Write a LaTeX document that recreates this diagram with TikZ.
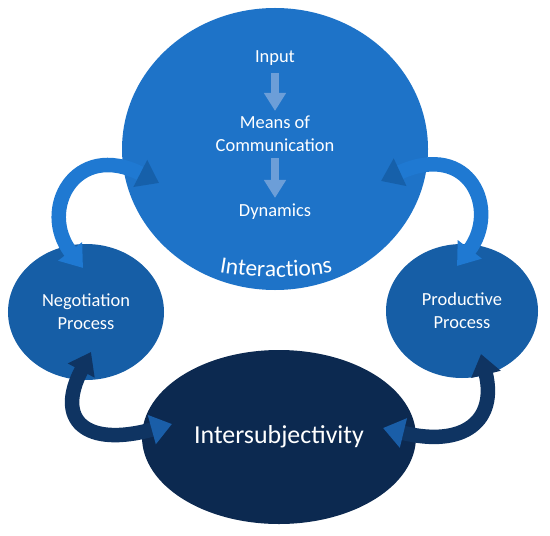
\documentclass[tikz,border=0pt]{standalone}
\usepackage{fontspec}
\setmainfont{Carlito}
\usetikzlibrary{shapes.geometric,arrows.meta,decorations.text}
\definecolor{topblue}{RGB}{30,115,200}
\definecolor{sideblue}{RGB}{22,94,166}
\definecolor{darknavy}{RGB}{12,41,80}
\definecolor{flowblue}{RGB}{108,158,216}
\definecolor{brightrib}{RGB}{31,121,210}
\definecolor{midrib}{RGB}{22,96,170}
\definecolor{navyrib}{RGB}{15,52,98}
\definecolor{lowhead}{RGB}{26,94,168}
\begin{document}
\begin{tikzpicture}[x=1bp,y=1bp,
  blob/.style={ellipse,inner sep=0pt,draw=none},
  txt/.style={text=white,inner sep=0pt,align=center,font=\fontsize{18.5}{23}\selectfont},
  flow/.style={draw=flowblue,line width=8bp,-{Triangle[width=21bp,length=18bp]}},
  ribbon/.style={line width=14.5bp}
]
\useasboundingbox (0,0) rectangle (550,-536);
% circles
\node[blob,fill=topblue,minimum width=306bp,minimum height=282bp] (inter) at (275,-149) {};
\node[blob,fill=sideblue,minimum width=156bp,minimum height=136bp,txt] (neg) at (86,-312) {Negotiation\\Process};
\node[blob,fill=sideblue,minimum width=152bp,minimum height=134bp,txt] (prod) at (462,-311) {Productive\\Process};
\node[blob,fill=darknavy,minimum width=274bp,minimum height=174bp,text=white,font=\fontsize{26}{30}\selectfont] (inters) at (279,-437) {Intersubjectivity};
% inner texts
\node[txt] (input) at (275,-58) {Input};
\node[txt] (means) at (275,-134) {Means of\\Communication};
\node[txt] (dyn) at (275,-212) {Dynamics};
\draw[flow,shorten <=7bp,shorten >=5bp] (input.south) -- (means.north);
\draw[flow,shorten <=6bp,shorten >=6bp] (means.south) -- (dyn.north);
% curved label
\path[decorate,decoration={text along path,text align=center,
  text={|\fontsize{23.5}{24}\selectfont\color{white}|Interactions}}]
  (276,53) ++(255:330) arc[start angle=255,end angle=285,radius=330];
% ribbon arrows
\coordinate (ulA) at (83,-268);
\coordinate (ulB) at (159,-183);
\coordinate (urA) at (457,-266);
\coordinate (urB) at (381,-181);
\coordinate (llA) at (91,-352);
\coordinate (llB) at (172,-424);
\coordinate (lrA) at (481,-354);
\coordinate (lrB) at (383,-428);
\draw[ribbon,draw=brightrib,{Triangle[width=29bp,length=21bp,color=brightrib]}-{Triangle[width=29bp,length=21bp,color=midrib]}]
  (ulA) .. controls (38,-210) and (75,-140) .. (ulB);
\draw[ribbon,draw=brightrib,{Triangle[width=29bp,length=21bp,color=brightrib]}-{Triangle[width=29bp,length=21bp,color=midrib]}]
  (urA) .. controls (500,-210) and (470,-140) .. (urB);
\draw[ribbon,draw=navyrib,{Triangle[width=29bp,length=21bp,color=navyrib]}-{Triangle[width=29bp,length=21bp,color=lowhead]}]
  (llA) .. controls (55,-420) and (85,-448) .. (llB);
\draw[ribbon,draw=navyrib,{Triangle[width=29bp,length=21bp,color=navyrib]}-{Triangle[width=29bp,length=21bp,color=lowhead]}]
  (lrA) .. controls (497,-420) and (465,-448) .. (lrB);
\end{tikzpicture}
\end{document}
